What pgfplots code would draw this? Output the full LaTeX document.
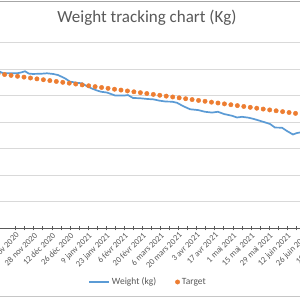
\documentclass[border=0pt]{standalone}
\usepackage{fontspec}
\setmainfont{Carlito}
\usepackage{pgfplots}
\pgfplotsset{compat=1.18}
\definecolor{wblue}{HTML}{5B9BD5}
\definecolor{torange}{HTML}{ED7D31}
\definecolor{txtgray}{HTML}{595959}
\definecolor{gridgray}{HTML}{D9D9D9}
\begin{document}
\begin{tikzpicture}
\useasboundingbox (0pt,0pt) rectangle (300pt,300pt);
\clip (0pt,0pt) rectangle (300pt,300pt);
\fill[white] (0pt,0pt) rectangle (300pt,300pt);
\draw[gray!70, line width=1.2pt] (-5pt,298.8pt) -- (305pt,298.8pt);
\draw[gray!45, line width=1pt] (-5pt,3pt) -- (305pt,3pt);
\node[text=txtgray, font=\fontsize{17}{20}\selectfont] at (147pt,282pt) {Weight tracking chart (Kg)};
\begin{axis}[
  at={(-21.25pt,71.7pt)}, anchor=south west,
  scale only axis, width=362.04pt, height=185.8pt,
  xmin=-40, xmax=240, ymin=0, ymax=140,
  axis x line*=bottom, axis y line*=left,
  y axis line style={draw=none},
  x axis line style={black!65, line width=0.8pt},
  ytick={0,20,...,140}, yticklabels={}, ytick style={draw=none},
  ymajorgrids, major grid style={gridgray, line width=0.8pt},
  xtick={-11.5,2.5,...,226.5},
  xticklabels={14 nov 2020,28 nov 2020,12 déc 2020,26 déc 2020,9 janv 2021,23 janv 2021,6 févr 2021,20 févr 2021,6 mars 2021,20 mars 2021,3 avr 2021,17 avr 2021,1 mai 2021,15 mai 2021,29 mai 2021,12 juin 2021,26 juin 2021,10 juil 2021},
  minor xtick={-4.5,9.5,...,219.5},
  tick align=center, major tick length=4pt, minor tick length=4pt,
  xtick style={black!65, line width=0.6pt},
  minor tick style={black!65, line width=0.6pt},
  xticklabel style={rotate=45, anchor=north east, font=\fontsize{8.5}{10}\selectfont, text=txtgray, inner sep=1pt},
  legend style={at={(0.2935,-0.289)}, anchor=west, draw=none, fill=none, legend columns=2,
    font=\fontsize{9.5}{11}\selectfont, text=txtgray,
    /tikz/every even column/.append style={column sep=17pt}},
  legend cell align=left,
]
\addplot[wblue, line width=1.7pt, no markers,
  legend image code/.code={\draw[wblue, line width=1.7pt] (0pt,0pt) -- (20pt,0pt);}] coordinates {
(-26,119.0) (-21.0,116.8) (-17.4,116.8) (-10.6,116.8) (-8.1,117.2) (-4.2,118.3) (-1.1,116.5) (2.0,116.3) (8.9,116.5) (12.8,116.8) (17.4,116.3) (21.3,115.5) (26.7,113.0) (30.6,110.5) (36.8,109.5) (39.9,109.3) (43.7,107.0) (47.6,105.3) (51.5,103.8) (54.6,102.9) (59.2,102.3) (65.4,100.1) (73.1,100.1) (75.4,100.4) (79.3,98.2) (84.7,98.0) (90.9,97.4) (94.8,97.2) (100.2,96.1) (104.8,95.5) (109.5,95.4) (113.3,94.6) (118.0,92.1) (123.4,89.7) (129.6,89.1) (135.0,87.8) (140.4,87.2) (145.0,87.8) (149.7,86.1) (155.9,84.8) (159.7,83.5) (163.6,84.0) (169.0,83.3) (173.7,82.1) (179.8,80.3) (185.3,78.6) (189.1,75.9) (194.5,75.8) (198.4,73.3) (203.0,70.7) (206.1,71.8) (210.5,72.5)
};
\addlegendentry{Weight (kg)}
\addplot[only marks, mark=*, mark size=2.2pt, color=torange, mark options={draw=none, fill=torange},
  legend image code/.code={\fill[torange] (6pt,0pt) circle (2.2pt);}] coordinates {
(-25,116.5) (-20,115.85) (-15,115.2) (-10,114.55) (-5,113.9) (0,113.25) (5,112.6) (10,111.95) (15,111.3) (20,110.65) (25,110.0) (30,109.35) (35,108.7) (40,108.05) (45,107.4) (50,106.75) (55,106.1) (60,105.45) (65,104.8) (70,104.15) (75,103.5) (80,102.85) (85,102.2) (90,101.55) (95,100.9) (100,100.25) (105,99.6) (110,98.95) (115,98.3) (120,97.65) (125,97.0) (130,96.35) (135,95.7) (140,95.05) (145,94.4) (150,93.75) (155,93.1) (160,92.45) (165,91.8) (170,91.15) (175,90.5) (180,89.85) (185,89.2) (190,88.55) (195,87.9) (200,87.25) (205,86.6)
};
\addlegendentry{Target}
\end{axis}
\end{tikzpicture}
\end{document}
